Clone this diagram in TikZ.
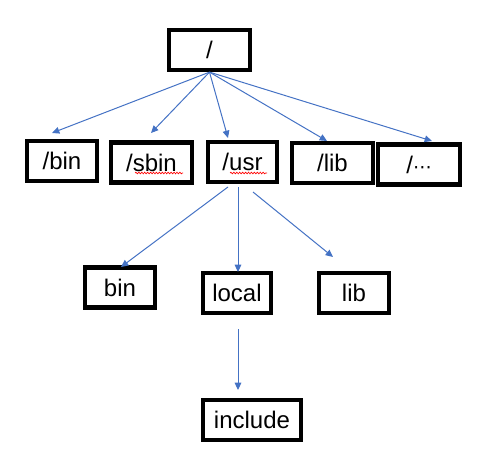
\documentclass[tikz,border=0pt]{standalone}
\usepackage{fontspec}
\setmainfont{Liberation Sans}
\newfontfamily\dotsfont{DejaVu Sans}
\usetikzlibrary{arrows.meta,decorations.pathmorphing}
\definecolor{arrblue}{RGB}{68,114,196}

\begin{document}
\begin{tikzpicture}[x=0.75pt,y=-0.75pt,
    box/.style={draw,line width=3.2pt,inner sep=0pt,minimum height=30pt,font=\fontsize{18}{20}\selectfont},
    arr/.style={arrblue,line width=0.75pt,-{Triangle[length=5.5pt,width=5pt]}},
    wavy/.style={red,line width=0.5pt,decorate,decoration={snake,amplitude=0.6pt,segment length=2.2pt}}]
                \useasboundingbox(0,0)rectangle(486,460);
                \node[box,minimum width=60.75pt](R)at(209.5,50){/};
                \node[box,minimum width=52.5pt](B1)at(62,161){/bin};
                \node[box,minimum width=60.75pt](S)at(151.5,162.5){/sbin};
                \node[box,minimum width=51.75pt](U)at(242.5,162){/usr};
                \node[box,minimum width=60.75pt](L1)at(332.5,163){/lib};
                \node[box,minimum width=61.5pt](E)at(419,164.5){/{\dotsfont\fontsize{14}{16}\selectfont ⋯}};
                \node[box,minimum width=52.5pt](B2)at(120,287.5){bin};
                \node[box,minimum width=51pt](L)at(237,293){local};
                \node[box,minimum width=52.5pt](L2)at(354,293){lib};
                \node[box,minimum width=73.5pt](I)at(252,420){include};
                \coordinate(tB1)at(52,133);
                \coordinate(tS)at(151,133);
                \coordinate(tU)at(228,138);
                \coordinate(tL1)at(327,141);
                \coordinate(tE)at(432,141);
                \coordinate(sB2)at(228,187);
                \coordinate(tB2)at(121,267);
                \coordinate(sL)at(238,187);
                \coordinate(tL)at(238,272);
                \coordinate(sL2)at(253,192);
                \coordinate(tL2)at(333,257);
                \coordinate(sI)at(238,329);
                \coordinate(tI)at(238,390);
                \draw[arr](R.south)--(tB1);
                \draw[arr](R.south)--(tS);
                \draw[arr](R.south)--(tU);
                \draw[arr](R.south)--(tL1);
                \draw[arr](R.south)--(tE);
                \draw[arr](sB2)--(tB2);
                \draw[arr](sL)--(tL);
                \draw[arr](sL2)--(tL2);
                \draw[arr](sI)--(tI);
                \draw[wavy](135,173)--(183,173);
                \draw[wavy](230,173)--(267,173);
            \end{tikzpicture}
\end{document}
